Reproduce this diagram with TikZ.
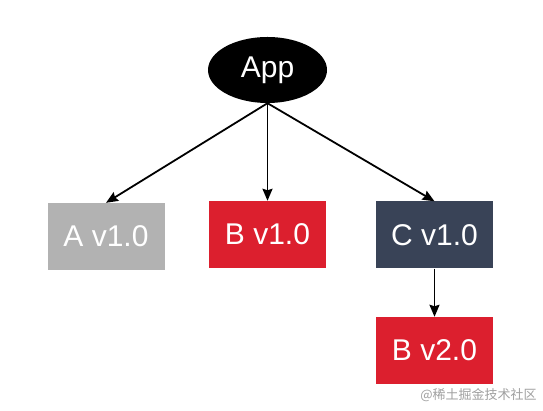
\documentclass[tikz,border=0pt]{standalone}
\usepackage{fontspec}
\setmainfont{Liberation Sans}
\newfontfamily\cjk{Noto Sans CJK SC}
\usepackage{xcolor}
\usepackage{tikz}
\usetikzlibrary{shapes.geometric, arrows.meta, positioning}
\definecolor{oldgray}{RGB}{178,178,178}
\definecolor{dupred}{RGB}{220,31,46}
\definecolor{slatebg}{RGB}{57,67,87}
\definecolor{markgray}{RGB}{160,160,160}

\begin{document}
\begin{tikzpicture}[x=1pt, y=-1pt,
    box/.style={rectangle, draw=none, minimum width=117pt, minimum height=67pt, inner sep=0pt, align=center, text=white, font=\fontsize{30}{34}\selectfont},
    arrow/.style={-{Stealth[length=12pt, width=10pt, inset=1.5pt]}, line width=1.8pt}
]
\useasboundingbox[fill=white] (0,0) rectangle (543,411);

\node[ellipse, fill=black, minimum width=119pt, minimum height=66pt, inner sep=0pt, text=white, font=\fontsize{30}{34}\selectfont] (app) at (267.5,70) {App};

\node[box, fill=oldgray] (a1) at (106,236.5) {A v1.0};
\node[box, fill=dupred] (b1) at (267.5,234.5) {B v1.0};
\node[box, fill=slatebg] (c1) at (434.5,235) {C v1.0};
\node[box, fill=dupred] (b2) at (434.5,350.5) {B v2.0};

\draw[arrow] (app.south) -- (a1.north);
\draw[arrow] (app.south) -- (b1.north);
\draw[arrow] (app.south) -- (c1.north);
\draw[arrow] (c1.south) -- (b2.north);

\node[text=markgray, font=\cjk\fontsize{13}{15}\selectfont, inner sep=0pt] (mark) at (478.5,395) {@稀土掘金技术社区};

\end{tikzpicture}
\end{document}
